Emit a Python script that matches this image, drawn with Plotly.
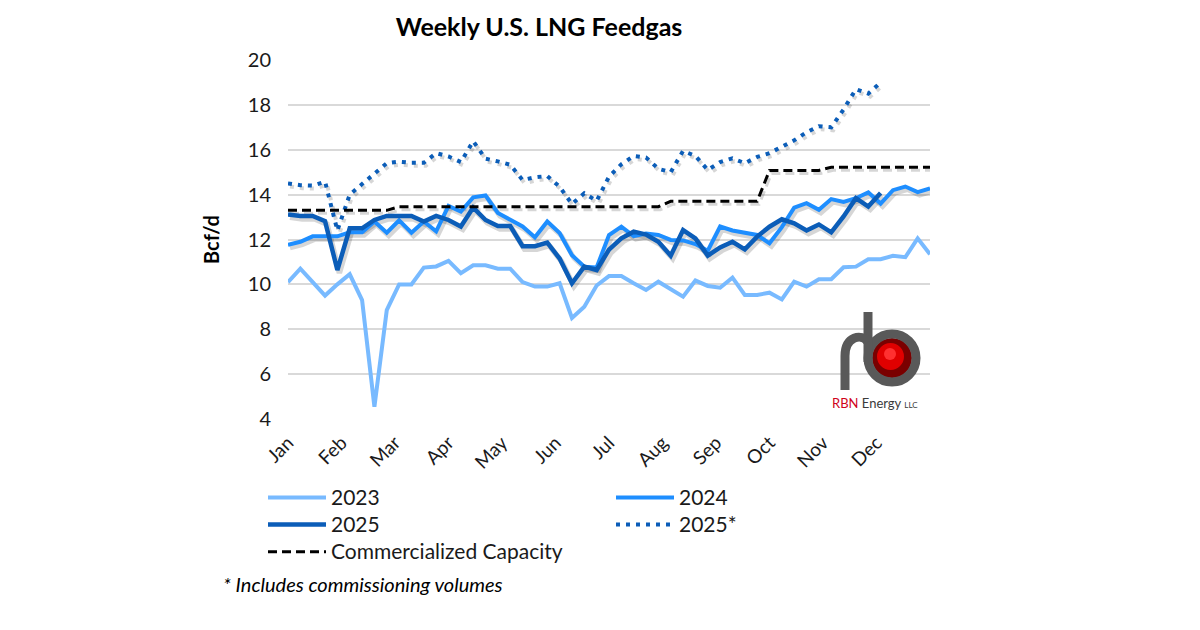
import plotly.graph_objects as go

# ---------------- data ----------------
weeks = list(range(53))
months = ["Jan", "Feb", "Mar", "Apr", "May", "Jun", "Jul", "Aug", "Sep", "Oct", "Nov", "Dec"]
month_pos = [0, 4.33, 8.67, 13, 17.33, 21.67, 26, 30.33, 34.67, 39, 43.33, 47.67]

y2023 = [10.1, 10.7, 10.1, 9.5, 10.0, 10.45, 9.3, 4.55, 8.85, 10.0,
         10.0, 10.75, 10.8, 11.05, 10.5, 10.85, 10.85, 10.7, 10.7, 10.1,
         9.9, 9.9, 10.05, 8.5, 9.0, 9.95, 10.37, 10.37, 10.05, 9.75,
         10.12, 9.8, 9.45, 10.17, 9.93, 9.85, 10.3, 9.53, 9.53, 9.63,
         9.33, 10.12, 9.9, 10.23, 10.23, 10.76, 10.79, 11.12, 11.12, 11.27,
         11.21, 12.05, 11.34]

y2024 = [11.76, 11.9, 12.14, 12.14, 12.14, 12.32, 12.32, 12.8, 12.3, 12.85,
         12.3, 12.8, 12.36, 13.5, 13.25, 13.88, 13.96, 13.18, 12.88, 12.58,
         12.1, 12.8, 12.29, 11.3, 10.79, 10.75, 12.2, 12.57, 12.15, 12.27,
         12.2, 11.98, 11.96, 11.8, 11.5, 12.58, 12.4, 12.28, 12.2, 11.83,
         12.55, 13.42, 13.62, 13.32, 13.8, 13.67, 13.84, 14.1, 13.6, 14.2,
         14.36, 14.11, 14.28]

y2025 = [13.12, 13.05, 13.05, 12.82, 10.64, 12.5, 12.5, 12.87, 13.05, 13.05,
         13.05, 12.8, 13.05, 12.87, 12.58, 13.42, 12.87, 12.6, 12.6, 11.7,
         11.7, 11.86, 11.15, 10.05, 10.79, 10.64, 11.55, 12.05, 12.35, 12.22,
         11.9, 11.28, 12.42, 12.05, 11.28, 11.65, 11.9, 11.56, 12.13, 12.57,
         12.9, 12.72, 12.4, 12.67, 12.32, 13.03, 13.84, 13.47, 14.07,
         None, None, None, None]

y2025_comm = [14.5, 14.42, 14.4, 14.58, 12.4, 14.0, 14.47, 14.95, 15.4, 15.47,
              15.42, 15.42, 15.85, 15.7, 15.45, 16.38, 15.6, 15.48, 15.33, 14.65,
              14.77, 14.83, 14.35, 13.58, 14.06, 13.72, 14.8, 15.35, 15.72, 15.65,
              15.15, 15.0, 15.95, 15.72, 15.1, 15.45, 15.62, 15.4, 15.68, 15.85,
              16.12, 16.42, 16.78, 17.05, 17.0, 17.8, 18.7, 18.5, 19.0,
              None, None, None, None]

capacity = [13.3, 13.3, 13.3, 13.3, 13.3, 13.3, 13.3, 13.3, 13.3, 13.46,
            13.46, 13.46, 13.46, 13.46, 13.46, 13.46, 13.46, 13.46, 13.46, 13.46,
            13.46, 13.46, 13.46, 13.46, 13.46, 13.46, 13.46, 13.46, 13.46, 13.46,
            13.46, 13.7, 13.7, 13.7, 13.7, 13.7, 13.7, 13.7, 13.7, 15.08,
            15.08, 15.08, 15.08, 15.08, 15.22, 15.22, 15.22, 15.22, 15.22, 15.22,
            15.22, 15.22, 15.22]

y_ticks = [4, 6, 8, 10, 12, 14, 16, 18, 20]
series_names = ["2023", "2024", "2025", "2025*", "Commercialized Capacity"]

# ---------------- styling ----------------
FONT = "Lato"
C2023 = "#78BAFF"
C2024 = "#1E8EFF"
C2025 = "#0B5DB8"
SHADOW = "rgba(0,0,0,0.16)"

# plot area in pixels
PL, PR, PT, PB = 288, 930, 60, 419
W, H = 1200, 630
X_RANGE = [0, 52]
Y_RANGE = [4, 20]
px_per_x = (PR - PL) / (X_RANGE[1] - X_RANGE[0])
px_per_y = (PB - PT) / (Y_RANGE[1] - Y_RANGE[0])
SDX, SDY = 2, 3  # shadow offset in px


def legend_label(s):
    return "<span style='font-size:21px'>" + s + "</span>"


fig = go.Figure()

# shadow traces on the (hidden) primary axes, whose ranges are shifted
for ys, wdt, dash in [(y2024, 5, "solid"), (y2025, 5.5, "solid"),
                      (y2025_comm, 4, "4px,6px"), (capacity, 3, "9px,5px")]:
    fig.add_trace(go.Scatter(x=weeks, y=ys, mode="lines", showlegend=False,
                             hoverinfo="skip", xaxis="x", yaxis="y",
                             line=dict(color=SHADOW, width=wdt, dash=dash)))

# real traces on overlaying axes
styles = [dict(color=C2023, width=4),
          dict(color=C2024, width=4),
          dict(color=C2025, width=4.5),
          dict(color=C2025, width=4, dash="4px,6px"),
          dict(color="black", width=3, dash="9px,5px")]
for ys, nm, st in zip([y2023, y2024, y2025, y2025_comm, capacity], series_names, styles):
    fig.add_trace(go.Scatter(x=weeks, y=ys, name=legend_label(nm), mode="lines",
                             xaxis="x2", yaxis="y2", line=st))

# ---------------- logo (decoration) ----------------
def fx(p):
    return (p - PL) / (PR - PL)


def fy(p):
    return (PB - p) / (PB - PT)


shapes = []
cx, cy = 892, 358
# red ball
shapes.append(dict(type="circle", xref="paper", yref="paper",
                   x0=fx(cx - 20), x1=fx(cx + 20), y0=fy(cy + 20), y1=fy(cy - 20),
                   fillcolor="#7a0000", line=dict(width=0), layer="above"))
shapes.append(dict(type="circle", xref="paper", yref="paper",
                   x0=fx(cx - 15), x1=fx(cx + 12), y0=fy(cy + 12), y1=fy(cy - 15),
                   fillcolor="#e00000", line=dict(width=0), layer="above"))
shapes.append(dict(type="circle", xref="paper", yref="paper",
                   x0=fx(cx - 8), x1=fx(cx + 4), y0=fy(cy + 2), y1=fy(cy - 10),
                   fillcolor="#ff3030", line=dict(width=0), layer="above"))
# bowl of the "b"
shapes.append(dict(type="circle", xref="paper", yref="paper",
                   x0=fx(cx - 24), x1=fx(cx + 24), y0=fy(cy + 24), y1=fy(cy - 24),
                   line=dict(color="#595959", width=9), layer="above"))
# stem of the "b"
path_stem = "M {} {} L {} {}".format(fx(868), fy(312), fx(868), fy(362))
shapes.append(dict(type="path", xref="paper", yref="paper", path=path_stem,
                   line=dict(color="#595959", width=9), layer="above"))
# the "r"
path_r = "M {} {} L {} {} C {} {} {} {} {} {}".format(
    fx(845), fy(390), fx(845), fy(356),
    fx(845), fy(336), fx(862), fy(333), fx(868), fy(342))
shapes.append(dict(type="path", xref="paper", yref="paper", path=path_r,
                   line=dict(color="#595959", width=9), layer="above"))

annotations = [
    dict(text="<span style='color:#d0021b'>RBN</span> Energy <span style='font-size:8px'>LLC</span>",
         xref="paper", yref="paper", x=fx(875), y=fy(403), showarrow=False,
         xanchor="center", yanchor="middle",
         font=dict(family=FONT, size=13, color="#3a3a3a")),
    dict(text="<i>* Includes commissioning volumes</i>",
         xref="paper", yref="paper", x=fx(221), y=fy(584), showarrow=False,
         xanchor="left", yanchor="middle",
         font=dict(family=FONT, size=20, color="black")),
]

fig.update_layout(
    width=W, height=H,
    margin=dict(l=PL, r=W - PR, t=PT, b=H - PB, pad=0),
    paper_bgcolor="white", plot_bgcolor="white",
    font=dict(family=FONT, color="#1a1a1a"),
    title=dict(text="<b>Weekly U.S. LNG Feedgas</b>", x=539 / W, xref="container",
               xanchor="center", y=1 - 27 / H, yref="container", yanchor="middle",
               font=dict(family=FONT, size=25, color="black")),
    xaxis=dict(range=[X_RANGE[0] - SDX / px_per_x, X_RANGE[1] - SDX / px_per_x],
               visible=False, fixedrange=True),
    yaxis=dict(range=[Y_RANGE[0] + SDY / px_per_y, Y_RANGE[1] + SDY / px_per_y],
               visible=False, fixedrange=True),
    xaxis2=dict(range=X_RANGE, overlaying="x", anchor="y2", side="bottom",
                tickmode="array", tickvals=month_pos, ticktext=months,
                tickangle=-45, showgrid=False, showline=False, zeroline=False,
                ticks="", ticklabelstandoff=8,
                tickfont=dict(family=FONT, size=19, color="#1a1a1a")),
    yaxis2=dict(range=Y_RANGE, overlaying="y", anchor="x2", side="left",
                tickmode="array", tickvals=y_ticks,
                showgrid=True, gridcolor="#D9D9D9", gridwidth=1.5,
                showline=False, zeroline=False, ticks="", ticklabelstandoff=16,
                tickfont=dict(family=FONT, size=20, color="#1a1a1a"),
                title=dict(text="<b>Bcf/d</b>", standoff=22,
                           font=dict(family=FONT, size=20, color="black"))),
    legend=dict(orientation="h", x=(263 - PL) / (PR - PL), xanchor="left",
                y=(PB - 479) / (PB - PT), yanchor="top",
                entrywidth=275, entrywidthmode="pixels", itemwidth=58,
                font=dict(family=FONT, size=18.5, color="#1a1a1a"),
                bgcolor="rgba(0,0,0,0)", tracegroupgap=0),
    shapes=shapes,
    annotations=annotations,
)

fig.write_html("out.html")
